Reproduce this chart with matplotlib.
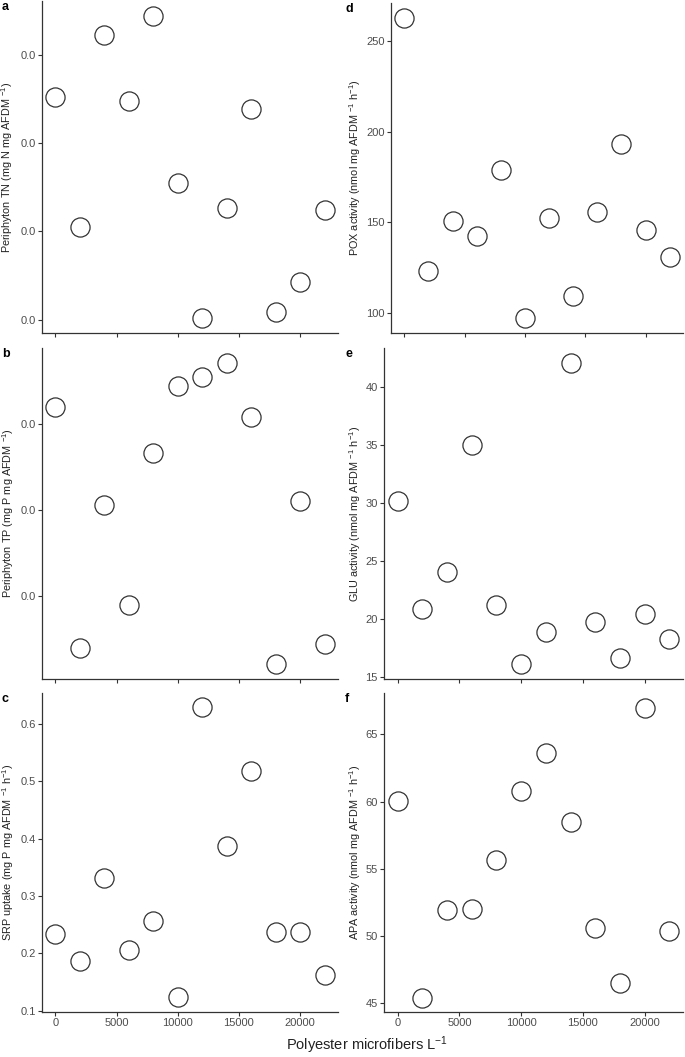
import numpy as np
import matplotlib
matplotlib.use('Agg')
import matplotlib.pyplot as plt
from matplotlib.ticker import FormatStrFormatter

plt.rcParams['font.family'] = ['Liberation Sans', 'DejaVu Sans']
plt.rcParams['mathtext.fontset'] = 'custom'
plt.rcParams['mathtext.rm'] = 'Liberation Sans'
plt.rcParams['mathtext.it'] = 'Liberation Sans:italic'

# microfiber concentrations (fibers per L)
fibers = [0, 2000, 4000, 6000, 8000, 10000, 12000, 14000, 16000, 18000, 20000, 22000]

# periphyton nutrient content (tick labels in the original all read 0.0)
tn = [0.03528, 0.02053, 0.04230, 0.03475, 0.04442, 0.02547,
      0.01019, 0.02271, 0.03392, 0.01083, 0.01427, 0.02242]
tp = [0.03193, 0.00389, 0.02058, 0.00892, 0.02656, 0.03441,
      0.03545, 0.03708, 0.03077, 0.00203, 0.02097, 0.00439]
srp = [0.234, 0.186, 0.331, 0.206, 0.256, 0.123,
       0.629, 0.388, 0.519, 0.237, 0.238, 0.163]

# enzyme activities
pox = [262.8, 123.1, 150.9, 142.7, 178.7, 97.2,
       152.6, 109.4, 155.7, 193.1, 145.6, 131.0]
glu = [30.17, 20.91, 24.03, 35.0, 21.23, 16.14,
       18.91, 42.03, 19.74, 16.63, 20.4, 18.31]
apa = [60.05, 45.42, 51.94, 51.99, 55.69, 60.79,
       63.64, 58.51, 50.57, 46.49, 67.01, 50.37]

tn_ticks = [0.01, 0.02, 0.03, 0.04]
tp_ticks = [0.01, 0.02, 0.03]
srp_ticks = [0.1, 0.2, 0.3, 0.4, 0.5, 0.6]
pox_ticks = [100, 150, 200, 250]
glu_ticks = [15, 20, 25, 30, 35, 40]
apa_ticks = [45, 50, 55, 60, 65]
x_ticks = [0, 5000, 10000, 15000, 20000]

W, H = 685, 1057
fig = plt.figure(figsize=(W / 100, H / 100), dpi=100)

def px_axes(left, top, right, bottom):
    return fig.add_axes([left / W, 1 - bottom / H, (right - left) / W, (bottom - top) / H])

# letter, axes box (px), data, ticks, format, y label, bottom row, label right edge, letter x
panels = [
    ('a', (42, 1, 338, 333), tn, tn_ticks, '%.1f',
     r'Periphyton TN (mg N mg AFDM $^{-1}$)', False, 15, 2),
    ('b', (42, 348, 338, 679), tp, tp_ticks, '%.1f',
     r'Periphyton TP (mg P mg AFDM $^{-1}$)', False, 16, 2),
    ('c', (42, 693, 338, 1012), srp, srp_ticks, '%.1f',
     r'SRP uptake (mg P mg AFDM $^{-1}$ h$^{-1}$)', True, 16, 2),
    ('d', (391, 3, 683, 333), pox, pox_ticks, '%d',
     r'POX activity (nmol mg AFDM $^{-1}$ h$^{-1}$)', False, 363, 346),
    ('e', (384, 348, 683, 679), glu, glu_ticks, '%d',
     r'GLU activity (nmol mg AFDM $^{-1}$ h$^{-1}$)', False, 363, 345),
    ('f', (384, 693, 683, 1012), apa, apa_ticks, '%d',
     r'APA activity (nmol mg AFDM $^{-1}$ h$^{-1}$)', True, 363, 345),
]

for letter, box, vals, yt, fmt, ylab, bottom_row, lab_x, let_x in panels:
    ax = px_axes(*box)
    ax.scatter(fibers, vals, s=190, facecolors='white', edgecolors='#333333',
               linewidths=0.9, zorder=3)
    lo, hi = min(vals), max(vals)
    pad = (hi - lo) * 0.05
    ax.set_ylim(lo - pad, hi + pad)
    ax.set_xlim(-1100, 23100)
    ax.set_xticks(x_ticks)
    ax.set_yticks(yt)
    ax.yaxis.set_major_formatter(FormatStrFormatter(fmt))
    for s in ['top', 'right']:
        ax.spines[s].set_visible(False)
    for s in ['left', 'bottom']:
        ax.spines[s].set_color('#333333')
        ax.spines[s].set_linewidth(0.9)
    ax.tick_params(direction='out', length=3, width=0.8, color='#333333',
                   labelsize=8, labelcolor='#4d4d4d', pad=1.5)
    if not bottom_row:
        ax.tick_params(axis='x', labelbottom=False)
    ax.set_ylabel(ylab, fontsize=7.8, color='#222222')
    ax.yaxis.set_label_coords((lab_x - box[0]) / (box[2] - box[0]), 0.5)
    fig.text(let_x / W, 1 - (box[1] + 9) / H, letter,
             fontsize=9, fontweight='bold', ha='left', va='baseline')

fig.text(367 / W, 1 - 1050 / H, r'Polyester microfibers L$^{-1}$',
         fontsize=10.5, ha='center', va='baseline', color='#222222')

fig.savefig('out.png', dpi=100)
